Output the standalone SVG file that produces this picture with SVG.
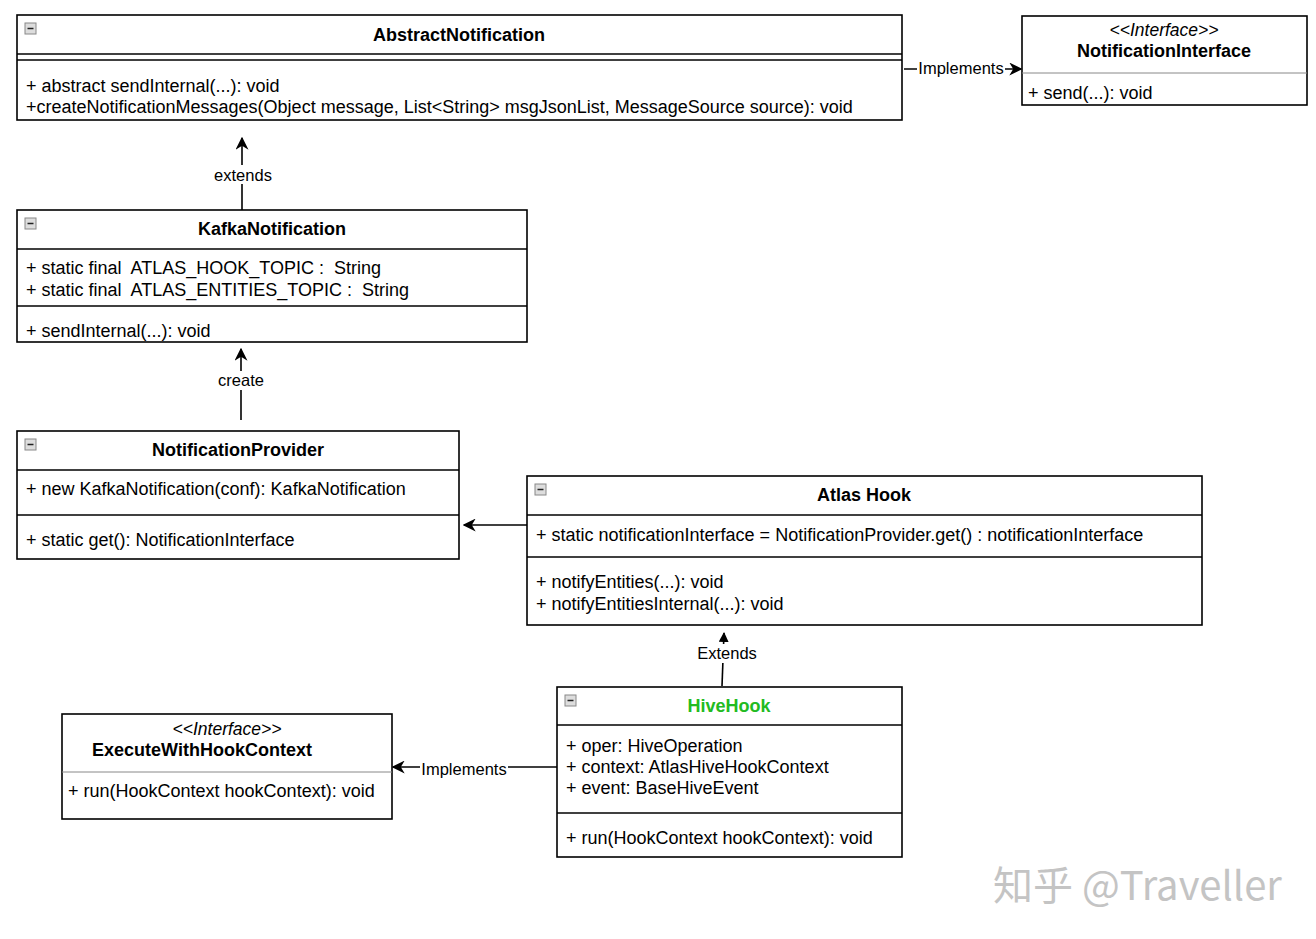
<svg xmlns="http://www.w3.org/2000/svg" width="1316" height="939" viewBox="0 0 1316 939">
<defs>
<style>
.box{fill:#fff;stroke:#000;stroke-width:1.6}
.sep{stroke:#000;stroke-width:1.6}
.sepg{stroke:#888;stroke-width:1}
text{font-family:"Liberation Sans",Arial,sans-serif;font-size:18px;fill:#000}
.t{font-weight:bold;text-anchor:middle}
.st{font-style:italic;text-anchor:middle;font-size:17.5px}
.lbl{text-anchor:middle;font-size:16.5px}
.lblbg{fill:#fff}
.edge{stroke:#000;stroke-width:1.6;fill:none}
.icon{fill:#ddd;stroke:#888;stroke-width:1}
.iconm{stroke:#222;stroke-width:1.5}
</style>
<marker id="arr2" viewBox="0 0 10 10" refX="9" refY="5" markerWidth="13" markerHeight="13" markerUnits="userSpaceOnUse" orient="auto">
<path d="M0,0 L10,5 L0,10 L3,5 Z" fill="#000"/>
</marker>
<marker id="tri" viewBox="0 0 10 10" refX="9" refY="5" markerWidth="10" markerHeight="10" markerUnits="userSpaceOnUse" orient="auto">
<path d="M0,0 L10,5 L0,10 Z" fill="#000"/>
</marker>
<g id="collapse">
<rect class="icon" x="0" y="0" width="11" height="11"/>
<line class="iconm" x1="2.5" y1="5.5" x2="8.5" y2="5.5"/>
</g>
</defs>
<rect width="1316" height="939" fill="#fff"/>

<g id="connectors">
<line class="edge" x1="904" y1="69" x2="1021" y2="69" marker-end="url(#arr2)"/>
<rect class="lblbg" x="917" y="59" width="88" height="18"/>
<text class="lbl" x="961" y="74">Implements</text>

<line class="edge" x1="242" y1="210" x2="242" y2="138" marker-end="url(#arr2)"/>
<rect class="lblbg" x="211" y="165" width="64" height="19"/>
<text class="lbl" x="243" y="181">extends</text>

<line class="edge" x1="241" y1="420" x2="241" y2="349" marker-end="url(#arr2)"/>
<rect class="lblbg" x="214" y="371" width="54" height="19"/>
<text class="lbl" x="241" y="386">create</text>

<line class="edge" x1="527" y1="525" x2="464" y2="525" marker-end="url(#arr2)"/>

<line class="edge" x1="722" y1="686" x2="724" y2="633" marker-end="url(#tri)"/>
<rect class="lblbg" x="694" y="644" width="64" height="19"/>
<text class="lbl" x="727" y="659">Extends</text>

<line class="edge" x1="557" y1="767" x2="393" y2="767" marker-end="url(#arr2)"/>
<rect class="lblbg" x="420" y="759" width="88" height="18"/>
<text class="lbl" x="464" y="775">Implements</text>
</g>

<g id="AbstractNotification">
<rect class="box" x="17" y="15" width="885" height="105"/>
<line class="sep" x1="17" y1="54" x2="902" y2="54"/>
<line class="sep" x1="17" y1="60" x2="902" y2="60"/>
<use href="#collapse" x="25" y="23"/>
<text class="t" x="459" y="41">AbstractNotification</text>
<text x="26" y="92">+ abstract sendInternal(...): void</text>
<text x="26" y="113">+createNotificationMessages(Object message, List&lt;String&gt; msgJsonList, MessageSource source): void</text>
</g>

<g id="NotificationInterface">
<rect class="box" x="1022" y="16" width="285" height="89"/>
<line class="sepg" x1="1022" y1="73" x2="1307" y2="73"/>
<text class="st" x="1164" y="36">&lt;&lt;Interface&gt;&gt;</text>
<text class="t" x="1164" y="57">NotificationInterface</text>
<text x="1028" y="99">+ send(...): void</text>
</g>

<g id="KafkaNotification">
<rect class="box" x="17" y="210" width="510" height="132"/>
<line class="sep" x1="17" y1="249" x2="527" y2="249"/>
<line class="sep" x1="17" y1="306" x2="527" y2="306"/>
<use href="#collapse" x="25" y="218"/>
<text class="t" x="272" y="235">KafkaNotification</text>
<text x="26" y="274" xml:space="preserve">+ static final  ATLAS_HOOK_TOPIC :  String</text>
<text x="26" y="296" xml:space="preserve">+ static final  ATLAS_ENTITIES_TOPIC :  String</text>
<text x="26" y="337">+ sendInternal(...): void</text>
</g>

<g id="NotificationProvider">
<rect class="box" x="17" y="431" width="442" height="128"/>
<line class="sep" x1="17" y1="470" x2="459" y2="470"/>
<line class="sep" x1="17" y1="515" x2="459" y2="515"/>
<use href="#collapse" x="25" y="439"/>
<text class="t" x="238" y="456">NotificationProvider</text>
<text x="26" y="495">+ new KafkaNotification(conf): KafkaNotification</text>
<text x="26" y="546">+ static get(): NotificationInterface</text>
</g>

<g id="AtlasHook">
<rect class="box" x="527" y="476" width="675" height="149"/>
<line class="sep" x1="527" y1="515" x2="1202" y2="515"/>
<line class="sep" x1="527" y1="557" x2="1202" y2="557"/>
<use href="#collapse" x="535" y="484"/>
<text class="t" x="864" y="501">Atlas Hook</text>
<text x="536" y="541">+ static notificationInterface = NotificationProvider.get() : notificationInterface</text>
<text x="536" y="588">+ notifyEntities(...): void</text>
<text x="536" y="610">+ notifyEntitiesInternal(...): void</text>
</g>

<g id="HiveHook">
<rect class="box" x="557" y="687" width="345" height="170"/>
<line class="sep" x1="557" y1="725" x2="902" y2="725"/>
<line class="sep" x1="557" y1="813" x2="902" y2="813"/>
<use href="#collapse" x="565" y="695"/>
<text class="t" x="729" y="712" style="fill:#22bb22">HiveHook</text>
<text x="566" y="752">+ oper: HiveOperation</text>
<text x="566" y="773">+ context: AtlasHiveHookContext</text>
<text x="566" y="794">+ event: BaseHiveEvent</text>
<text x="566" y="844">+ run(HookContext hookContext): void</text>
</g>

<g id="ExecuteWithHookContext">
<rect class="box" x="62" y="714" width="330" height="105"/>
<line class="sepg" x1="62" y1="772" x2="392" y2="772"/>
<text class="st" x="227" y="735">&lt;&lt;Interface&gt;&gt;</text>
<text class="t" x="202" y="756">ExecuteWithHookContext</text>
<text x="68" y="797">+ run(HookContext hookContext): void</text>
</g>

<g id="watermark">
<text x="993" y="900" style="font-family:'Noto Sans CJK SC','Liberation Sans',sans-serif;font-size:40px;fill:#c4c4c4">知乎 @Traveller</text>
</g>
</svg>
